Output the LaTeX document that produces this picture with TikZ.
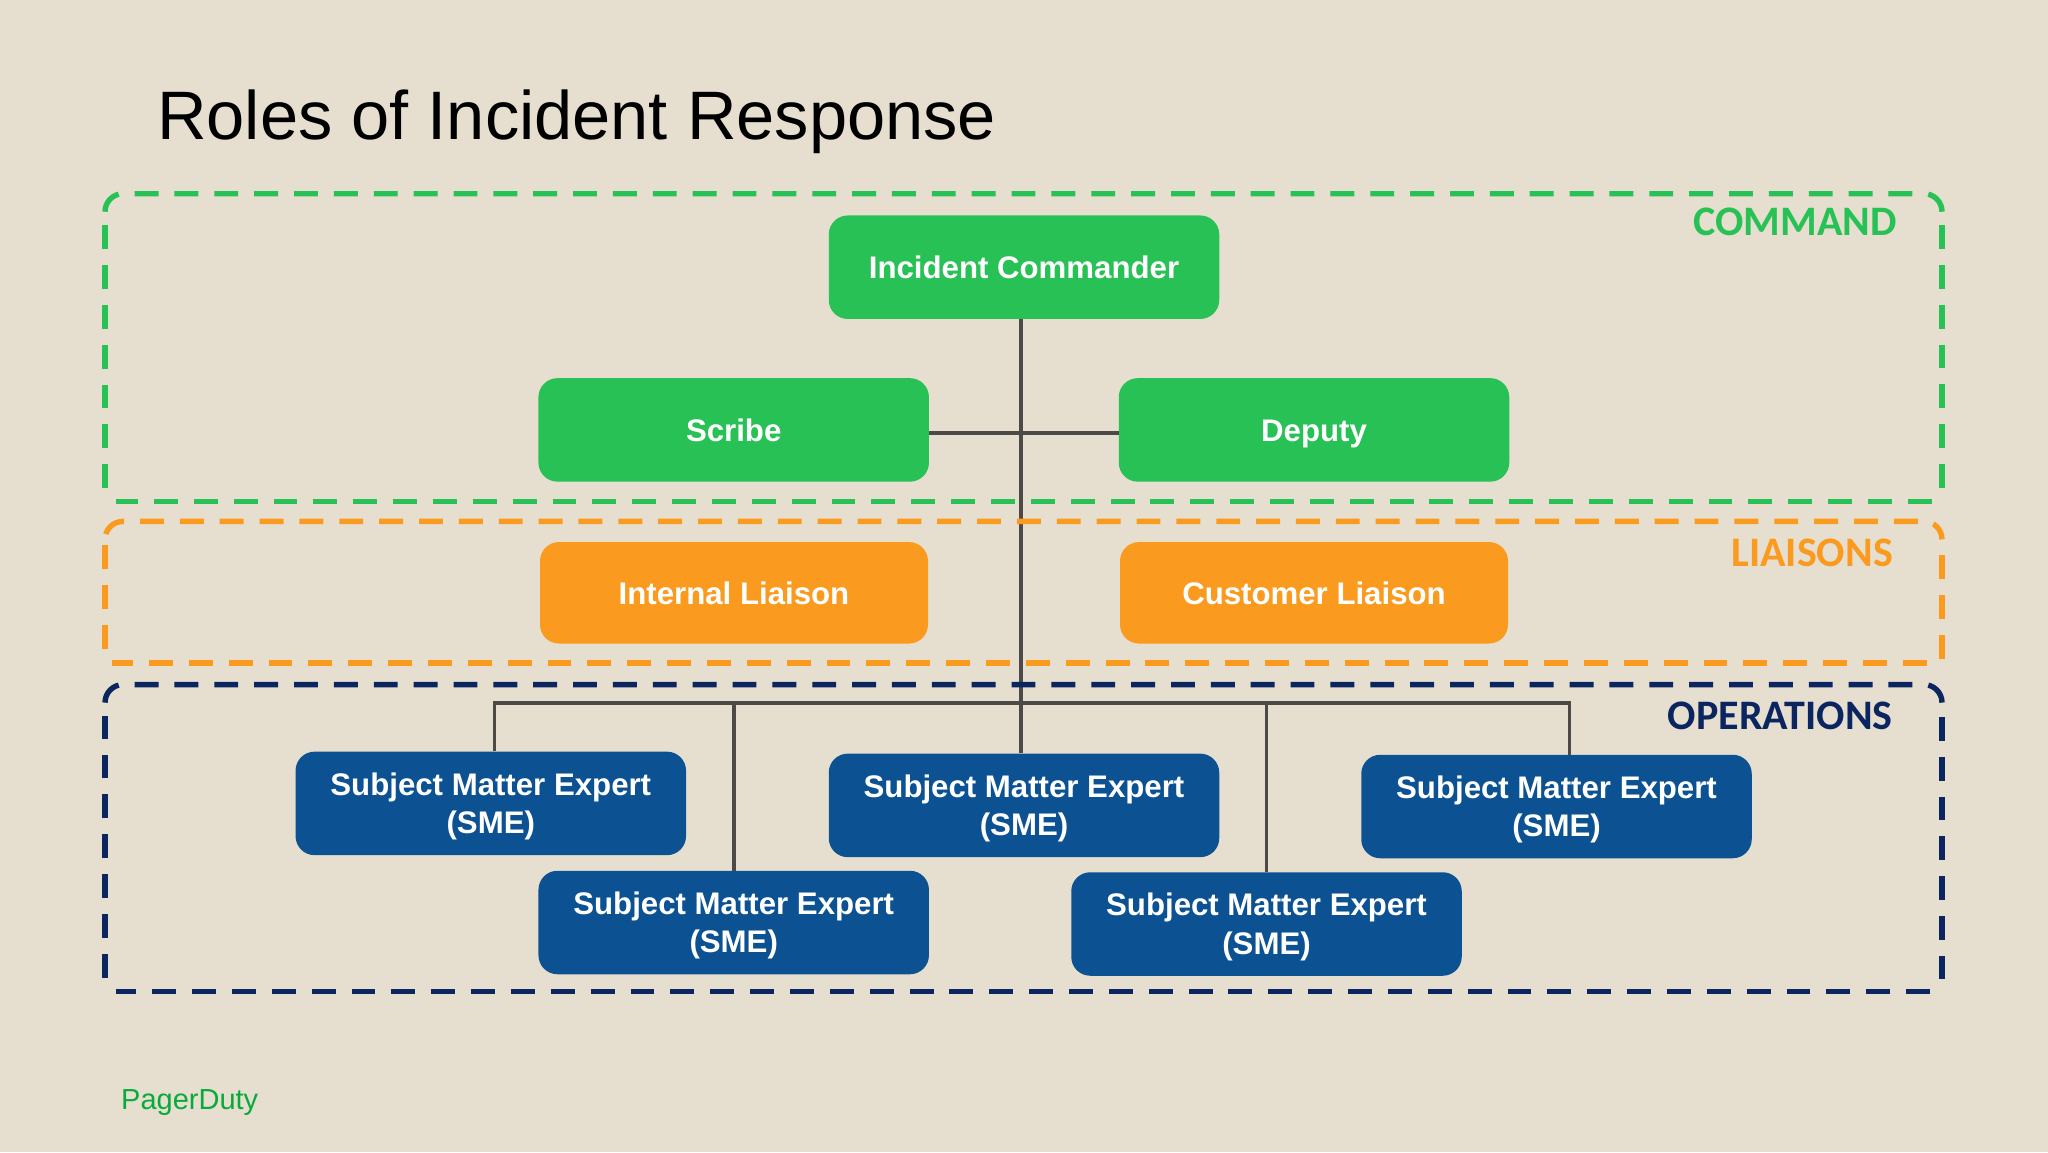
\documentclass[tikz,border=0pt]{standalone}
\usepackage{fontspec}
\setmainfont{Liberation Sans}
\newfontfamily\labelfont{Carlito}
\definecolor{bgc}{HTML}{E6DFD0}
\definecolor{grn}{HTML}{28C155}
\definecolor{org}{HTML}{FA9A1E}
\definecolor{blu}{HTML}{0C5293}
\definecolor{nvy}{HTML}{0A2560}
\definecolor{lnc}{HTML}{4D4946}
\definecolor{pdg}{HTML}{08AB3A}
\newcommand\smetext{\rule{0pt}{28.5pt}Subject Matter Expert\\(SME)}
\tikzset{
  box/.style={rounded corners=19pt,inner sep=0pt,minimum width=390.5pt,minimum height=103.5pt,text=white,align=center,font=\fontsize{31.2}{38.5}\selectfont\bfseries},
  gbox/.style={box,fill=grn,text height=29pt,text depth=6.2pt},
  obox/.style={box,fill=org,minimum width=388pt,minimum height=101.5pt,text height=29pt,text depth=6.2pt},
  bbox/.style={box,fill=blu},
  frame/.style={line width=5.4pt,dash pattern=on 23.9pt off 15.96pt},
  link/.style={line width=3.6pt,draw=lnc},
  zone/.style={inner sep=0pt,anchor=base east,font=\labelfont\fontsize{42}{44}\selectfont\bfseries},
}
\begin{document}
\begin{tikzpicture}[x=1pt,y=-1pt]
\useasboundingbox (0,0) rectangle (2048,1152);
\fill[bgc] (0,0) rectangle (2048,1152);
\node[inner sep=0pt,anchor=base west,font=\fontsize{68.6}{70}\selectfont] (title) at (157,139) {Roles of Incident Response};
\node[inner sep=0pt,anchor=base west,text=pdg,font=\fontsize{29}{32}\selectfont] (logo) at (121,1109) {PagerDuty};
% role boxes
\node[gbox] (ic) at (1024,267.2) {Incident Commander};
\node[gbox] (scribe) at (733.7,429.9) {Scribe};
\node[gbox] (deputy) at (1314,429.9) {Deputy};
\node[obox] (internal) at (734,592.8) {Internal Liaison};
\node[obox] (customer) at (1314,592.8) {Customer Liaison};
\node[bbox] (smea) at (490.8,803.4) {\smetext};
\node[bbox] (smeb) at (733.7,922.5) {\smetext};
\node[bbox] (smec) at (1024,805.4) {\smetext};
\node[bbox] (smed) at (1556.5,806.5) {\smetext};
\node[bbox] (smee) at (1266.5,924) {\smetext};
% junctions
\coordinate (trunk) at (1021,703);
\coordinate (busl) at (494.5,703);
\coordinate (busb) at (734,703);
\coordinate (buse) at (1266.6,703);
\coordinate (busr) at (1569.5,703);
\coordinate (cross) at (1021,432.7);
% connectors
\draw[link] (trunk |- ic.south) -- (trunk |- smec.north);
\draw[link,line width=4pt] (scribe.east |- cross) -- (deputy.west |- cross);
\draw[link,line cap=rect] (busl) -- (busr);
\draw[link] (busl) -- (busl |- smea.north);
\draw[link] (busb) -- (busb |- smeb.north);
\draw[link] (buse) -- (buse |- smee.north);
\draw[link] (busr) -- (busr |- smed.north);
% command frame
\draw[frame,draw=grn] (105,211.7) arc[start angle=180,end angle=270,radius=18] -- (1924,193.7) arc[start angle=270,end angle=360,radius=18];
\draw[frame,draw=grn] (1942,225) -- (1942,488.2);
\draw[frame,draw=grn] (1931.7,501.4) -- (116,501.4);
\draw[frame,draw=grn] (105,488.2) -- (105,225);
% liaisons frame
\draw[frame,draw=org,dash phase=34.46pt] (105,539.4) arc[start angle=180,end angle=270,radius=18] -- (1924,521.4) arc[start angle=270,end angle=360,radius=18];
\draw[frame,draw=org] (1942,555) -- (1942,658.6);
\draw[frame,draw=org] (1926.7,663) -- (111.7,663);
\draw[frame,draw=org] (105,649) -- (105,545.4);
% operations frame
\draw[frame,draw=nvy] (105,702.6) arc[start angle=180,end angle=270,radius=18] -- (1924,684.6) arc[start angle=270,end angle=360,radius=18];
\draw[frame,draw=nvy] (1942,716.8) -- (1942,979);
\draw[frame,draw=nvy] (1930,991.7) -- (115.7,991.7);
\draw[frame,draw=nvy] (105,977.7) -- (105,715.5);
% zone labels
\node[zone,text=grn] (zonec) at (1897,235) {COMMAND};
\node[zone,text=org] (zonel) at (1893,566) {LIAISONS};
\node[zone,text=nvy] (zoneo) at (1893,729) {OPERATIONS};
\end{tikzpicture}
\end{document}
